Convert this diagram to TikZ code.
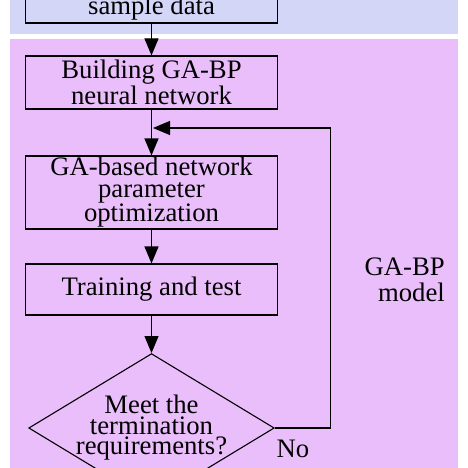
\documentclass[tikz,border=0pt]{standalone}
\usepackage{fontspec}
\setmainfont{Liberation Serif}
\usetikzlibrary{arrows.meta,shapes.geometric}

\definecolor{regionblue}{RGB}{212,214,248}
\definecolor{regionpink}{RGB}{234,190,250}

\tikzset{
    stepbox/.style={draw, line width=1.1pt, minimum width=252pt, inner sep=0pt,
        align=center, font=\fontsize{26.7}{21.5}\selectfont},
    decision/.style={draw, diamond, line width=1.1pt, aspect=1.65, inner sep=-2.5pt,
        align=center, font=\fontsize{26.7}{20.5}\selectfont},
    arr/.style={line width=1.1pt, -{Triangle[width=14pt,length=17pt]}},
    sidetext/.style={inner sep=0pt, font=\fontsize{26.7}{26}\selectfont}
}

\begin{document}
\begin{tikzpicture}[x=1pt,y=-1pt]

\useasboundingbox (0,0) rectangle (468,468);
\clip (0,0) rectangle (468,468);

% ===== Vùng nền =====
\fill[regionblue] (10,-10) rectangle (458,34);
\fill[regionpink] (10,39) rectangle (458,480);

% ===== Các khối =====
\node[stepbox, minimum height=30pt] (sample) at (151.5,8) {sample data};
\node[stepbox, minimum height=53pt] (build) at (151.5,82.5) {Building GA-BP\\neural network};
\node[stepbox, minimum height=73pt] (opt) at (151.5,192.5) {GA-based network\\parameter\\optimization};
\node[stepbox, minimum height=51pt] (train) at (151.5,289.5) {Training and test};
\node[decision] (cond) at (151.5,428) {Meet the\\termination\\requirements?};

% ===== Mũi tên =====
\draw[arr] (sample) -- (build);
\draw[arr] (build) -- (opt);
\draw[arr] (opt) -- (train);
\draw[arr] (train) -- (cond);

\coordinate (back) at (153,128);
\draw[arr] (cond.east) -- ++(56,0) |- (back);

% ===== Nhãn =====
\node[sidetext] (no) at (293,449) {No};
\node[sidetext, align=right, anchor=east] (model) at (445,280) {GA-BP\\model};

\end{tikzpicture}
\end{document}
